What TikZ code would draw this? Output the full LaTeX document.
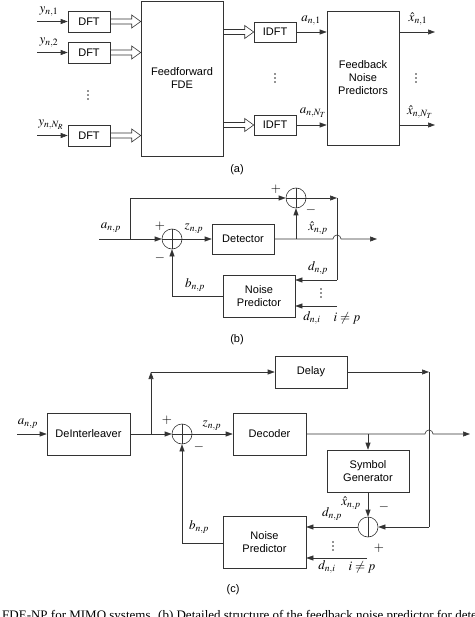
\documentclass[tikz,border=0pt]{standalone}
\usepackage{mathptmx}
\usepackage[no-math]{fontspec}
\setmainfont{Liberation Sans}
\newfontfamily\capfont{Liberation Serif}
\usetikzlibrary{arrows.meta,calc}
\begin{document}
\begin{tikzpicture}[x=1pt,y=-1pt,
  every node/.style={font=\fontsize{11}{13}\selectfont},
  box/.style={draw=black!80, line width=0.6pt, rectangle, inner sep=0pt, align=center},
  sumx/.style={draw=black!80, line width=0.6pt, circle, minimum size=20pt, inner sep=0pt,
    path picture={\draw[black!80,line width=0.5pt] (path picture bounding box.north) -- (path picture bounding box.south) (path picture bounding box.west) -- (path picture bounding box.east);}},
  sumv/.style={draw=black!80, line width=0.6pt, circle, minimum size=20pt, inner sep=0pt,
    path picture={\draw[black!80,line width=0.5pt] (path picture bounding box.north) -- (path picture bounding box.south);}},
  ln/.style={draw=black!80, line width=0.6pt},
  arr/.style={ln, -{Triangle[length=7pt,width=5pt]}},
  lbl/.style={inner sep=0pt, font=\fontsize{13}{15}\selectfont},
  vdot/.style={fill=black!85},
  blk/.style={draw=black!80, line width=0.6pt, to path={let \p1=(\tikztostart), \p2=(\tikztotarget) in
     (\x1,{\y1+2.5pt}) -- ({\x2-9pt},{\y1+2.5pt}) -- ({\x2-9pt},{\y1+6.5pt}) -- (\x2,\y1)
     -- ({\x2-9pt},{\y1-6.5pt}) -- ({\x2-9pt},{\y1-2.5pt}) -- (\x1,{\y1-2.5pt})}}
]
\path[use as bounding box] (0,0) rectangle (474,617);
\clip (0,0) rectangle (474,617);

% ---------------- (a) ----------------
\node[box, minimum width=42pt, minimum height=21pt] (d1) at (89,21.5) {DFT};
\node[box, minimum width=42pt, minimum height=21pt] (d2) at (89,52.5) {DFT};
\node[box, minimum width=42pt, minimum height=21pt] (d3) at (89,135.5) {DFT};
\foreach \yy in {91,95,99} \fill[vdot] (88,\yy) circle[radius=0.9pt];
\coordinate (y1) at (37,21.5);
\coordinate (y2) at (37,52.5);
\coordinate (y3) at (37,135.5);
\draw[arr] (y1) -- (d1.west);
\draw[arr] (y2) -- (d2.west);
\draw[arr] (y3) -- (d3.west);
\node[lbl] (ly1) at (49,12) {$y_{n,1}$};
\node[lbl] (ly2) at (49,43) {$y_{n,2}$};
\node[lbl] (ly3) at (51,125) {$y_{n,N_R}$};

\node[box, minimum width=82pt, minimum height=155pt] (fde) at (182,78.5) {Feedforward\\FDE};
\draw[blk] (d1.east) to (fde.west |- d1.east);
\draw[blk] (d2.east) to (fde.west |- d2.east);
\draw[blk] (d3.east) to (fde.west |- d3.east);

\node[box, minimum width=42pt, minimum height=20pt] (i1) at (275,32) {IDFT};
\node[box, minimum width=42pt, minimum height=20pt] (i2) at (275,125) {IDFT};
\foreach \yy in {74,78,82} \fill[vdot] (275,\yy) circle[radius=0.9pt];
\draw[blk] (fde.east |- i1.west) to (i1.west);
\draw[blk] (fde.east |- i2.west) to (i2.west);

\node[box, minimum width=72pt, minimum height=134pt] (fb) at (363,78) {Feedback\\Noise\\Predictors};
\draw[arr] (i1.east) -- (fb.west |- i1.east);
\draw[arr] (i2.east) -- (fb.west |- i2.east);
\node[lbl] (la1) at (311,21) {$a_{n,1}$};
\node[lbl] (la2) at (313,113) {$a_{n,N_T}$};
\coordinate (o1) at (435,32);
\coordinate (o2) at (435,125);
\draw[arr] (fb.east |- o1) -- (o1);
\draw[arr] (fb.east |- o2) -- (o2);
\node[lbl] (lx1) at (418,19) {$\hat{x}_{n,1}$};
\node[lbl] (lx2) at (420,112) {$\hat{x}_{n,N_T}$};
\foreach \yy in {74,78,82} \fill[vdot] (416,\yy) circle[radius=0.9pt];
\node (ta) at (237,170) {(a)};

% ---------------- (b) ----------------
\coordinate (bin) at (99,239);
\coordinate (bbr) at (130,239);
\node[sumx] (s1) at (172,239) {};
\node[sumx] (s2) at (296,198) {};
\node[box, minimum width=62pt, minimum height=30pt] (det) at (243,239) {Detector};
\node[box, minimum width=72pt, minimum height=42pt] (np1) at (259,296) {Noise\\Predictor};
\draw[ln] (bin) -- (bbr);
\draw[arr] (bbr) -- (s1.west);
\draw[ln] (bbr) -- (130,198);
\draw[arr] (130,198) -- (s2.west);
\draw[arr] (s1.east) -- (det.west);
\draw[arr] (det.east) -- (333,239) arc[start angle=180, end angle=0, radius=4pt] -- (377,239);
\draw[arr] (296,239) -- (s2.south);
\draw[arr] (s2.east) -- (337,198);
\draw[ln] (337,198) -- (337,280);
\draw[arr] (337,280) -- (np1.east |- 0,280);
\draw[arr] (337,306) -- (np1.east |- 0,306);
\draw[ln] (np1.west) -- (172,296);
\draw[arr] (172,296) -- (s1.south);
\node[lbl] (lab) at (111,228) {$a_{n,p}$};
\node[lbl] (p1) at (160,226) {$+$};
\node[lbl] (m1) at (160,258) {$-$};
\node[lbl] (lzb) at (194,229) {$z_{n,p}$};
\node[lbl] (p2) at (276,189) {$+$};
\node[lbl] (m2) at (311,210) {$-$};
\node[lbl] (lxb) at (318,228) {$\hat{x}_{n,p}$};
\node[lbl] (ldp) at (318,268) {$d_{n,p}$};
\foreach \yy in {289,293,297} \fill[vdot] (321,\yy) circle[radius=0.9pt];
\node[lbl] (ldi) at (312,318) {$d_{n,i}$};
\node[lbl] (lnb) at (347,318) {$i\neq p$};
\node[lbl] (lbb) at (195,285) {$b_{n,p}$};
\node (tb) at (237,340) {(b)};

% ---------------- (c) ----------------
\coordinate (cin) at (17,434);
\coordinate (cbr) at (151,434);
\node[box, minimum width=83pt, minimum height=42pt] (dint) at (88.5,434) {DeInterleaver};
\node[sumx] (s3) at (182,434) {};
\node[box, minimum width=72pt, minimum height=32pt] (del) at (311,372) {Delay};
\node[box, minimum width=73pt, minimum height=42pt] (dec) at (269.5,434) {Decoder};
\node[box, minimum width=82pt, minimum height=42pt] (sg) at (368,471) {Symbol\\Generator};
\node[sumv] (s4) at (368,527) {};
\node[box, minimum width=83pt, minimum height=52pt] (np2) at (264.5,542) {Noise\\Predictor};
\draw[arr] (cin) -- (dint.west);
\draw[arr] (dint.east) -- (s3.west);
\draw[arr] (cbr) -- (151,372);
\draw[arr] (151,372) -- (del.west);
\draw[arr] (del.east) -- (429,372);
\draw[ln] (429,372) -- (429,527);
\draw[arr] (429,527) -- (s4.east);
\draw[arr] (s3.east) -- (dec.west);
\draw[arr] (dec.east) -- (425,434) arc[start angle=180, end angle=0, radius=4pt] -- (470,434);
\draw[arr] (sg.north |- dec.east) -- (sg.north);
\draw[arr] (sg.south) -- (s4.north);
\draw[arr] (s4.west) -- (np2.east |- s4.west);
\draw[arr] (367,558) -- (np2.east |- 0,558);
\draw[ln] (np2.west |- 0,543) -- (182,543);
\draw[arr] (182,543) -- (s3.south);
\node[lbl] (lac) at (28,424) {$a_{n,p}$};
\node[lbl] (p3) at (167,420) {$+$};
\node[lbl] (m3) at (199,447) {$-$};
\node[lbl] (lzc) at (212,426) {$z_{n,p}$};
\node[lbl] (lxc) at (351,503) {$\hat{x}_{n,p}$};
\node[lbl] (m4) at (384,507) {$-$};
\node[lbl] (p4) at (379,548) {$+$};
\node[lbl] (ldpc) at (332,514) {$d_{n,p}$};
\foreach \yy in {542,546,550} \fill[vdot] (333,\yy) circle[radius=0.9pt];
\node[lbl] (ldic) at (327,567) {$d_{n,i}$};
\node[lbl] (lnc) at (362,567) {$i\neq p$};
\node[lbl] (lbc) at (199,527) {$b_{n,p}$};
\node (tc) at (233,590) {(c)};

\node[anchor=base west, inner sep=0pt, font=\capfont\fontsize{13}{15}\selectfont] (cap) at (2,619)
  {FDE-NP for MIMO systems. (b) Detailed structure of the feedback noise predictor for detecting};
\end{tikzpicture}
\end{document}
